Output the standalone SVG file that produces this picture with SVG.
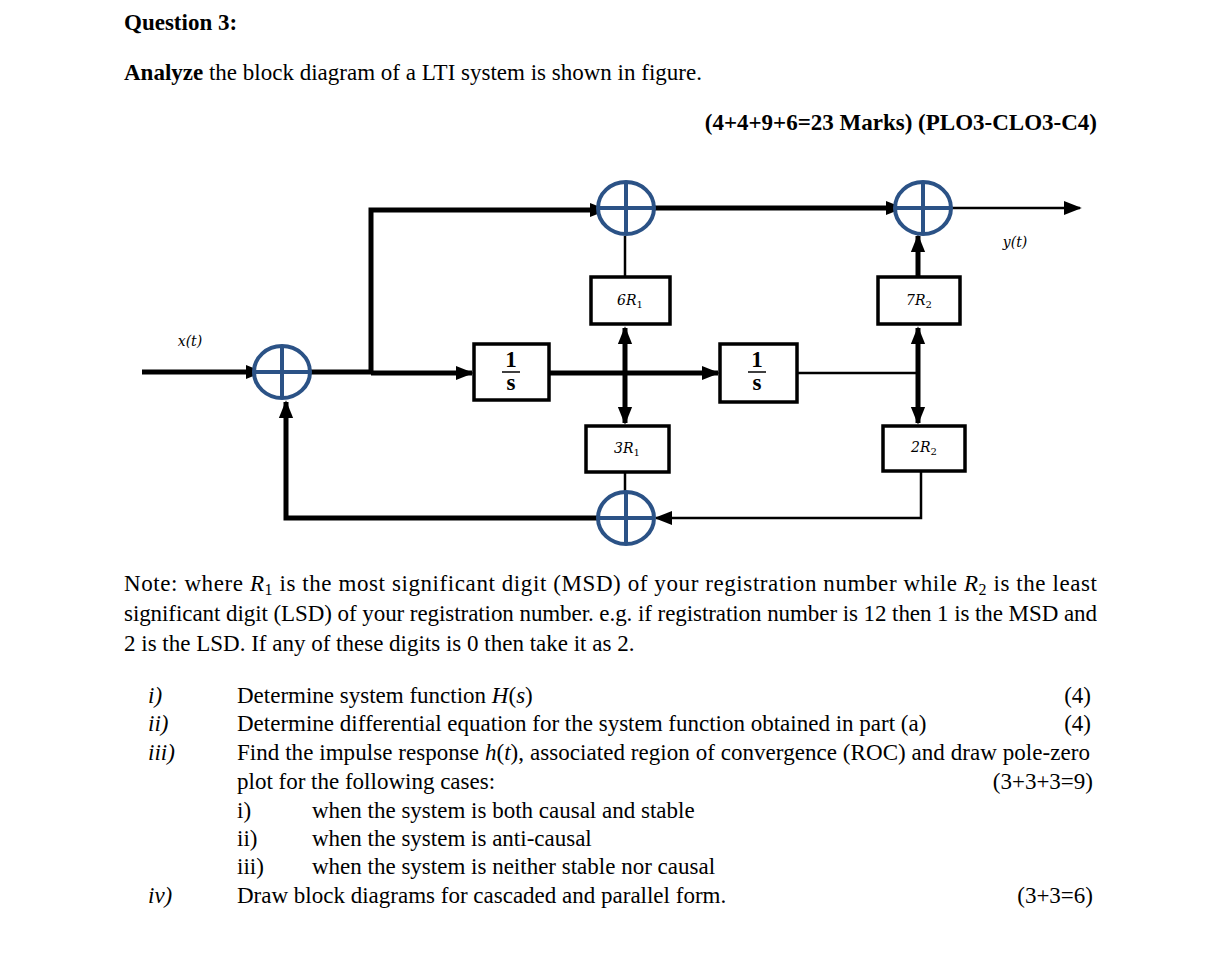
<svg xmlns="http://www.w3.org/2000/svg" width="1222" height="966" viewBox="0 0 1222 966">
<style>
.t{font-family:"Liberation Serif",serif;font-size:23px;fill:#000}
.b{font-weight:bold}
.m{font-family:"DejaVu Serif","Liberation Serif",serif;font-size:14px;fill:#000}
.s{fill:#fff;stroke:#2b5286;stroke-width:4}
.blk{fill:#fff;stroke:#000;stroke-width:3.5}
.w{stroke:#000;stroke-width:5;fill:none}
.n{stroke:#000;stroke-width:2.5;fill:none}
</style>
<defs>
<marker id="ah" viewBox="0 0 10 10" refX="9" refY="5" markerWidth="18" markerHeight="18" markerUnits="userSpaceOnUse" orient="auto-start-reverse"><path d="M0,1L10,5L0,9z"/></marker>
</defs>
<rect width="1222" height="966" fill="#fff"/>
<text class="t b" x="124" y="30" font-size="24">Question 3:</text>
<text class="t" x="124" y="80"><tspan class="b">Analyze</tspan> the block diagram of a LTI system is shown in figure.</text>
<text class="t b" x="1097" y="130" text-anchor="end">(4+4+9+6=23 Marks) (PLO3-CLO3-C4)</text>
<g id="connectors">
<path class="w" d="M142,372H262" marker-end="url(#ah)"/>
<path class="w" d="M310,372H371M371,374V210H606" marker-end="url(#ah)"/>
<path class="w" d="M371,373L472,373" marker-end="url(#ah)"/>
<path class="w" d="M549,373H718" marker-end="url(#ah)"/>
<path class="n" d="M797,373H918"/>
<path class="w" d="M625,328V423" marker-start="url(#ah)" marker-end="url(#ah)"/>
<path class="n" d="M625,277V236"/>
<path class="n" d="M625,472V498"/>
<path class="w" d="M918,328V423" marker-start="url(#ah)" marker-end="url(#ah)"/>
<path class="w" d="M918,277V236" marker-end="url(#ah)"/>
<path class="n" d="M921,471V518H656" marker-end="url(#ah)" stroke-width="4"/>
<path class="w" d="M598,518H286V402" marker-end="url(#ah)"/>
<path class="w" d="M654,208H902" marker-end="url(#ah)"/>
<path class="n" d="M951,208H1080" marker-end="url(#ah)"/>
</g>
<g id="sum1"><ellipse class="s" cx="282" cy="372" rx="28" ry="26"/><path class="s" d="M254,372H310M282,346V398"/></g>
<g id="sumA"><ellipse class="s" cx="626" cy="208" rx="28" ry="26"/><path class="s" d="M598,208H654M626,182V234"/></g>
<g id="sumB"><ellipse class="s" cx="923" cy="208" rx="28" ry="26"/><path class="s" d="M895,208H951M923,182V234"/></g>
<g id="sumC"><ellipse class="s" cx="626" cy="518" rx="28" ry="26"/><path class="s" d="M598,518H654M626,492V544"/></g>
<g id="int1"><rect class="blk" x="474" y="344" width="75" height="56" stroke-width="2.5"/><text class="t b" x="511" y="367" text-anchor="middle" font-size="15">1</text><path d="M502,372H520" stroke="#000" stroke-width="1.5"/><text class="t b" x="511" y="390" text-anchor="middle" font-size="15">s</text></g>
<g id="int2"><rect class="blk" x="720" y="344" width="77" height="58" stroke-width="2.5"/><text class="t b" x="757" y="367" text-anchor="middle" font-size="15">1</text><path d="M748,372H766" stroke="#000" stroke-width="1.5"/><text class="t b" x="757" y="390" text-anchor="middle" font-size="15">s</text></g>
<g id="b6R1"><rect class="blk" x="591" y="277" width="79" height="47"/><text class="m" x="630" y="305" text-anchor="middle"><tspan font-style="italic">6R</tspan><tspan font-size="10" dy="3">1</tspan></text></g>
<g id="b3R1"><rect class="blk" x="586" y="426" width="83" height="46"/><text class="m" x="627" y="453" text-anchor="middle"><tspan font-style="italic">3R</tspan><tspan font-size="10" dy="3">1</tspan></text></g>
<g id="b7R2"><rect class="blk" x="878" y="277" width="82" height="47"/><text class="m" x="919" y="305" text-anchor="middle"><tspan font-style="italic">7R</tspan><tspan font-size="10" dy="3">2</tspan></text></g>
<g id="b2R2"><rect class="blk" x="883" y="426" width="82" height="45"/><text class="m" x="924" y="452" text-anchor="middle"><tspan font-style="italic">2R</tspan><tspan font-size="10" dy="3">2</tspan></text></g>
<text class="m" x="190" y="346" text-anchor="middle" font-style="italic">x(t)</text>
<text class="m" x="1015" y="247" text-anchor="middle" font-style="italic">y(t)</text>
<text class="t" x="124" y="591" textLength="973" lengthAdjust="spacing">Note: where <tspan font-style="italic">R</tspan><tspan font-size="16" dy="4">1</tspan><tspan dy="-4"> is the most significant digit (MSD) of your registration number while </tspan><tspan font-style="italic">R</tspan><tspan font-size="16" dy="4">2</tspan><tspan dy="-4"> is the least</tspan></text>
<text class="t" x="124" y="621" textLength="973" lengthAdjust="spacing">significant digit (LSD) of your registration number. e.g. if registration number is 12 then 1 is the MSD and</text>
<text class="t" x="124" y="651">2 is the LSD. If any of these digits is 0 then take it as 2.</text>
<g id="list">
<text class="t" x="148" y="703" font-style="italic">i)</text>
<text class="t" x="148" y="731" font-style="italic">ii)</text>
<text class="t" x="148" y="760" font-style="italic">iii)</text>
<text class="t" x="148" y="903" font-style="italic">iv)</text>
<text class="t" x="237" y="703">Determine system function <tspan font-style="italic">H</tspan>(<tspan font-style="italic">s</tspan>)</text>
<text class="t" x="1091" y="703" text-anchor="end">(4)</text>
<text class="t" x="237" y="731">Determine differential equation for the system function obtained in part (a)</text>
<text class="t" x="1091" y="731" text-anchor="end">(4)</text>
<text class="t" x="237" y="760" textLength="853" lengthAdjust="spacing">Find the impulse response <tspan font-style="italic">h</tspan>(<tspan font-style="italic">t</tspan>), associated region of convergence (ROC) and draw pole-zero</text>
<text class="t" x="237" y="789">plot for the following cases:</text>
<text class="t" x="1093" y="789" text-anchor="end">(3+3+3=9)</text>
<text class="t" x="237" y="818">i)</text><text class="t" x="312" y="818">when the system is both causal and stable</text>
<text class="t" x="237" y="846">ii)</text><text class="t" x="312" y="846">when the system is anti-causal</text>
<text class="t" x="237" y="874">iii)</text><text class="t" x="312" y="874">when the system is neither stable nor causal</text>
<text class="t" x="237" y="903">Draw block diagrams for cascaded and parallel form.</text>
<text class="t" x="1093" y="903" text-anchor="end">(3+3=6)</text>
</g>
</svg>
